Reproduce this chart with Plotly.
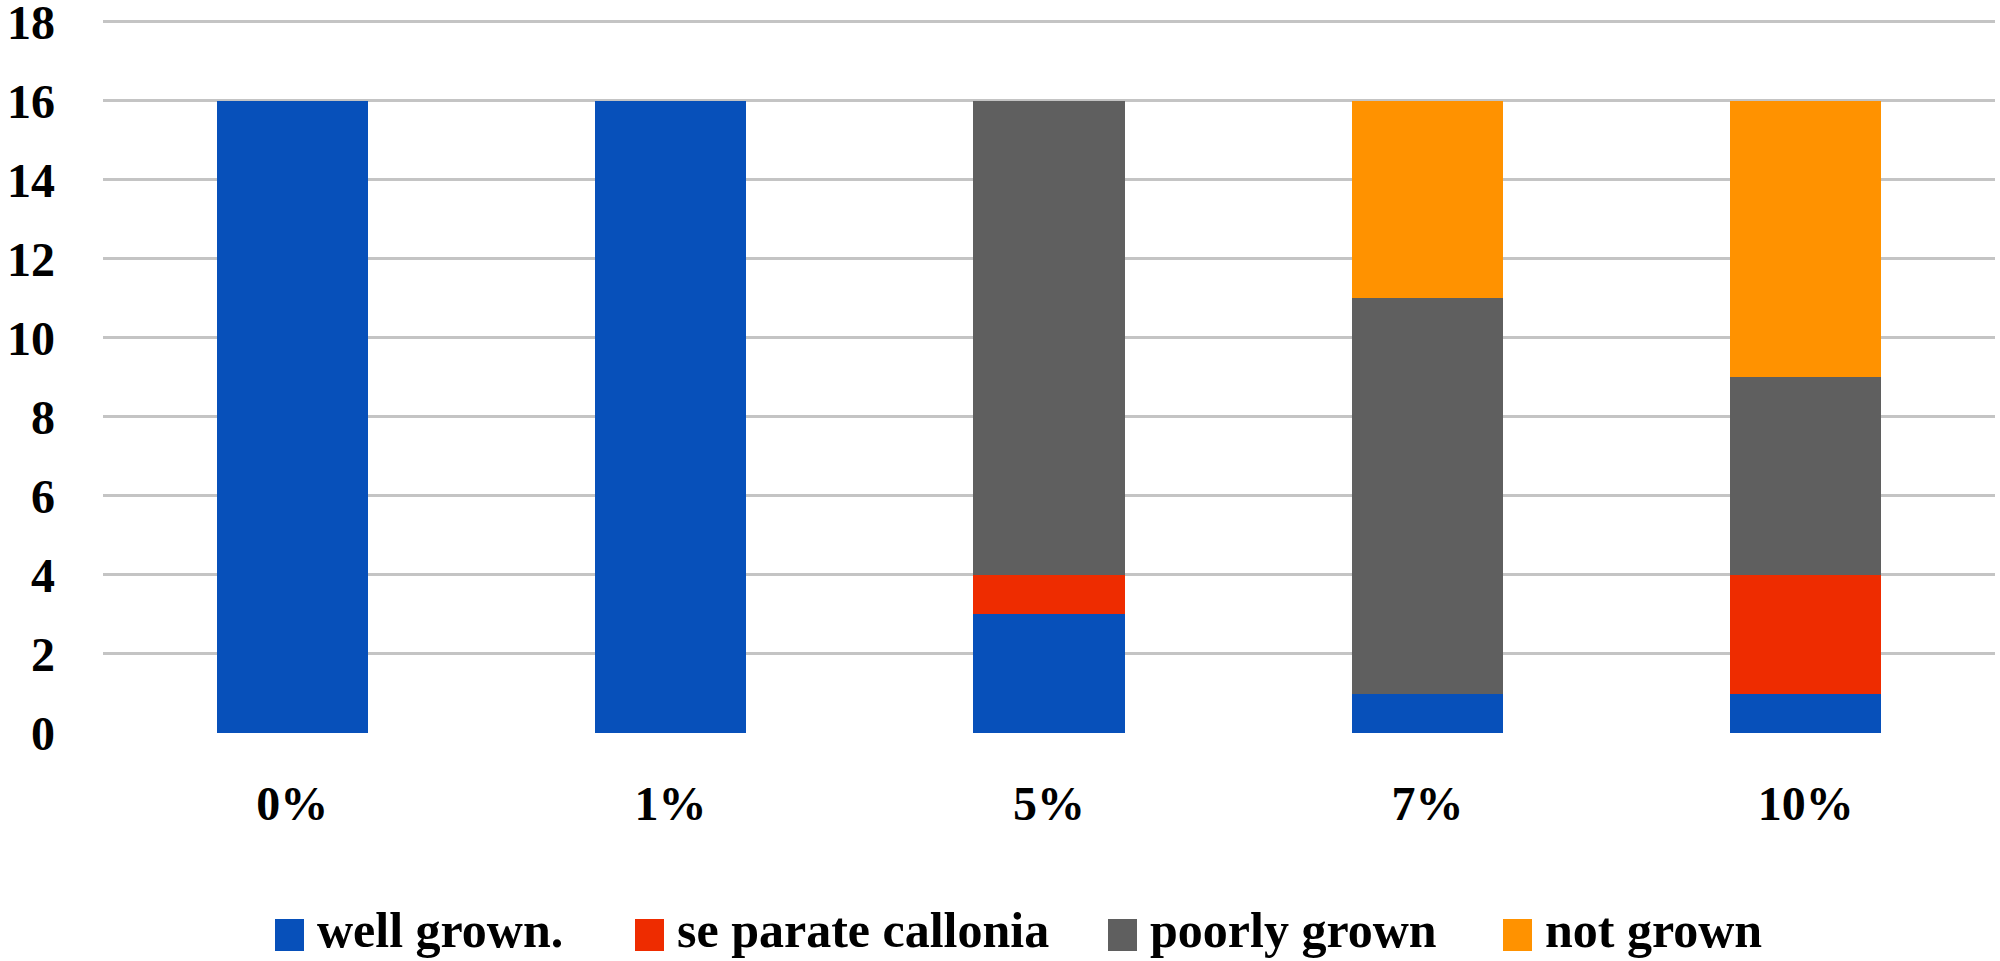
import plotly.graph_objects as go

# data
categories = ["0%", "1%", "5%", "7%", "10%"]
well_grown = [16, 16, 3, 1, 1]
separate_callonia = [0, 0, 1, 0, 3]
poorly_grown = [0, 0, 12, 10, 5]
not_grown = [0, 0, 0, 5, 7]

series_names = ["well grown.", "se parate callonia", "poorly grown", "not grown"]
series_values = [well_grown, separate_callonia, poorly_grown, not_grown]
colors = ["#0750BA", "#EE2C00", "#5F5F5F", "#FF9200"]

# page layout in screen pixels (body margin is removed below)
W, H = 2000, 961
plot_left, plot_right = 103, 1995
y_top_val = 18.1
zero_y = 733
px_per_unit = (733 - 22) / 18.0
plot_top = zero_y - y_top_val * px_per_unit
plot_w = plot_right - plot_left
plot_h = zero_y - plot_top

L = plot_left
T = plot_top
R = W - plot_right
B = H - zero_y

FONT = "Times New Roman, Liberation Serif, serif"


def px2paper_x(px):
    return (px - plot_left) / plot_w


def px2paper_y(py):
    return (zero_y - py) / plot_h


fig = go.Figure()
for name, vals, col in zip(series_names, series_values, colors):
    fig.add_trace(go.Bar(
        x=categories,
        y=vals,
        name=name,
        marker=dict(color=col, line=dict(width=0)),
        showlegend=False,
    ))

# hand-made legend (big square swatches like the original)
legend_x = [275, 635, 1108, 1503]   # left edge of each swatch, px
sw_w, sw_top, sw_bot = 29, 919, 951
text_mid = 930
for name, col, px in zip(series_names, colors, legend_x):
    fig.add_shape(
        type="rect", xref="paper", yref="paper",
        x0=px2paper_x(px), x1=px2paper_x(px + sw_w),
        y0=px2paper_y(sw_bot), y1=px2paper_y(sw_top),
        fillcolor=col, line=dict(width=0),
    )
    fig.add_annotation(
        text=name, xref="paper", yref="paper",
        x=px2paper_x(px + sw_w + 11), y=px2paper_y(text_mid),
        xanchor="left", yanchor="middle", showarrow=False,
        font=dict(family=FONT, size=50, color="black", weight="bold"),
    )

fig.update_layout(
    width=W, height=H,
    margin=dict(l=L, r=R, t=T, b=B, pad=0, autoexpand=False),
    barmode="stack",
    bargap=0.6,
    plot_bgcolor="white",
    paper_bgcolor="white",
    font=dict(family=FONT, size=48, color="black", weight="bold"),
    xaxis=dict(
        showgrid=False, showline=False, zeroline=False, ticks="",
        ticklabelstandoff=38, automargin=False,
        tickfont=dict(family=FONT, size=48, color="black", weight="bold"),
    ),
    yaxis=dict(
        range=[0, y_top_val], tickvals=list(range(0, 19, 2)),
        showgrid=True, gridcolor="#C4C4C4", gridwidth=3,
        zeroline=False, showline=False, ticks="",
        ticklabelstandoff=47, automargin=False, ticklabeloverflow="allow",
        tickfont=dict(family=FONT, size=48, color="black", weight="bold"),
    ),
)

fig.write_html("out.html", config={"displayModeBar": False},
               post_script="document.body.style.margin = '0';")
